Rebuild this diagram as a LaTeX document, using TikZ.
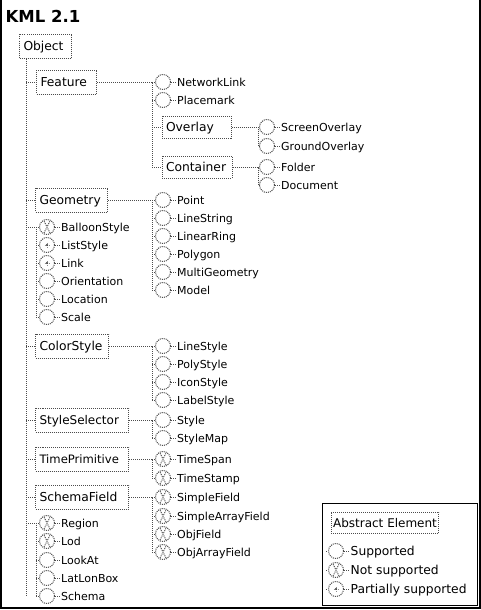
\documentclass[tikz,border=0pt]{standalone}
\usepackage{fontspec}
\setmainfont{DejaVu Sans}
\usetikzlibrary{positioning}
\tikzset{
  conn/.style={draw=black!70, line width=1pt, dash pattern=on 1pt off 1pt},
  elem/.style={draw=black!70, line width=1pt, dash pattern=on 1pt off 1pt, fill=white,
    rectangle, anchor=west, inner xsep=4pt, inner ysep=0pt, minimum height=24pt,
    text height=9pt, text depth=0pt, align=left, font=\fontsize{12.3}{14}\selectfont},
  leaf/.style={circle, draw=black!70, line width=1pt, dash pattern=on 1pt off 1pt,
    fill=white, minimum size=15pt, inner sep=0pt},
  leaftext/.style={inner sep=0.5pt, text height=8pt, text depth=0pt, anchor=west,
    font=\fontsize{11}{13}\selectfont},
  legtext/.style={inner sep=0.5pt, text height=9pt, text depth=0pt, anchor=west,
    font=\fontsize{12.3}{14}\selectfont},
  ok/.style={},
  nok/.style={path picture={
    \draw[black!70, line width=0.9pt]
      ([shift={(-3pt,-6pt)}]path picture bounding box.center) -- ([shift={(3pt,6pt)}]path picture bounding box.center)
      ([shift={(3pt,-6pt)}]path picture bounding box.center) -- ([shift={(-3pt,6pt)}]path picture bounding box.center);}},
  part/.style={path picture={
    \draw[black!45, line width=0.6pt]
      ([xshift=-2.5pt]path picture bounding box.center) -- ([xshift=2.5pt]path picture bounding box.center)
      ([yshift=-2.5pt]path picture bounding box.center) -- ([yshift=2.5pt]path picture bounding box.center);
    \fill[black!80] (path picture bounding box.center) circle (1.2pt);}},
  frame/.style={draw=black, line width=2pt},
  legframe/.style={draw=black, line width=1pt},
}
\newcommand\leafitem[5]{%
  \node[leaf,#5] (#1) at (#2,#3) {};
  \node[leaftext,right=5.5pt of #1] (#1t) {#4};
  \draw[conn] (#1.east) -- (#1t.west);
}
\begin{document}
\begin{tikzpicture}[x=1pt,y=-1pt]
\useasboundingbox (0,0) rectangle (481,610);
% outer frame (open at top)
\draw[frame] (1,0) -- (1,608) -- (479.5,608) -- (479.5,0);
% title
\node[anchor=base west, inner sep=0pt, font=\bfseries\fontsize{16.5}{18}\selectfont] (title) at (5.5,23) {KML 2.1};

% abstract boxes
\node[elem, text width=44pt] (object) at (19,46.5) {Object};
\node[elem, text width=52pt] (feature) at (36,82) {Feature};
\node[elem, text width=61pt, minimum height=22pt] (overlay) at (161.5,127) {Overlay};
\node[elem, text width=62pt, minimum height=22pt] (container) at (161.5,167) {Container};
\node[elem, text width=64pt] (geometry) at (35,200) {Geometry};
\node[elem, text width=65pt] (colorstyle) at (35,346) {ColorStyle};
\node[elem, text width=85pt, font=\fontsize{12}{14}\selectfont] (styleselector) at (35,420) {StyleSelector};
\node[elem, text width=85pt, font=\fontsize{11.6}{14}\selectfont] (timeprimitive) at (35,459) {TimePrimitive};
\node[elem, text width=85pt] (schemafield) at (35,497) {SchemaField};

% leaves
\leafitem{networklink}{163}{82}{NetworkLink}{ok}
\leafitem{placemark}{163}{100}{Placemark}{ok}
\leafitem{screenoverlay}{267}{127}{ScreenOverlay}{ok}
\leafitem{groundoverlay}{267}{146}{GroundOverlay}{ok}
\leafitem{folder}{267}{167}{Folder}{ok}
\leafitem{document}{267}{185}{Document}{ok}
\leafitem{point}{163}{200}{Point}{ok}
\leafitem{linestring}{163}{218}{LineString}{ok}
\leafitem{linearring}{163}{236}{LinearRing}{ok}
\leafitem{polygon}{163}{254}{Polygon}{ok}
\leafitem{multigeometry}{163}{272}{MultiGeometry}{ok}
\leafitem{model}{163}{290}{Model}{ok}
\leafitem{balloonstyle}{47}{227}{BalloonStyle}{nok}
\leafitem{liststyle}{47}{245}{ListStyle}{part}
\leafitem{link}{47}{263}{Link}{part}
\leafitem{orientation}{47}{281}{Orientation}{ok}
\leafitem{location}{47}{299}{Location}{ok}
\leafitem{scale}{47}{317}{Scale}{ok}
\leafitem{linestyle}{163}{346}{LineStyle}{ok}
\leafitem{polystyle}{163}{364}{PolyStyle}{ok}
\leafitem{iconstyle}{163}{382}{IconStyle}{ok}
\leafitem{labelstyle}{163}{400}{LabelStyle}{ok}
\leafitem{style}{163}{420}{Style}{ok}
\leafitem{stylemap}{163}{438}{StyleMap}{ok}
\leafitem{timespan}{163}{459}{TimeSpan}{nok}
\leafitem{timestamp}{163}{478}{TimeStamp}{nok}
\leafitem{simplefield}{163}{497}{SimpleField}{nok}
\leafitem{simplearrayfield}{163}{516}{SimpleArrayField}{nok}
\leafitem{objfield}{163}{534}{ObjField}{nok}
\leafitem{objarrayfield}{163}{552}{ObjArrayField}{nok}
\leafitem{region}{47}{523}{Region}{nok}
\leafitem{lod}{47}{541}{Lod}{nok}
\leafitem{lookat}{47}{560}{LookAt}{ok}
\leafitem{latlonbox}{47}{578}{LatLonBox}{ok}
\leafitem{schema}{47}{596}{Schema}{ok}

% main trunk
\coordinate (trbot) at (26,596);
\draw[conn] ([xshift=7pt]object.south west) -- (trbot);
\foreach \n in {feature,geometry,colorstyle,styleselector,timeprimitive,schemafield,balloonstyle,region}
  \draw[conn] (trbot |- \n.west) -- (\n.west);

% Feature bus
\coordinate (fbus) at (152,82);
\draw[conn] (feature.east) -- (fbus) -- (fbus |- container.west);
\foreach \n in {networklink,placemark,overlay,container}
  \draw[conn] (fbus |- \n.west) -- (\n.west);
% Overlay bus
\coordinate (obus) at (258,127);
\draw[conn] (overlay.east) -- (obus) -- (obus |- groundoverlay.west) -- (groundoverlay.west);
\draw[conn] (obus |- screenoverlay.west) -- (screenoverlay.west);
% Container bus
\coordinate (cbus) at (258,167);
\draw[conn] (container.east) -- (cbus) -- (cbus |- document.west) -- (document.west);
\draw[conn] (cbus |- folder.west) -- (folder.west);
% Geometry bus
\coordinate (gbus) at (152,200);
\draw[conn] (geometry.east) -- (gbus) -- (gbus |- model.west);
\foreach \n in {point,linestring,linearring,polygon,multigeometry,model}
  \draw[conn] (gbus |- \n.west) -- (\n.west);
% Geometry sub-list
\coordinate (gsub) at (36,227);
\draw[conn] (gsub) -- (gsub |- scale.west);
\foreach \n in {liststyle,link,orientation,location,scale}
  \draw[conn] (gsub |- \n.west) -- (\n.west);
% ColorStyle bus
\coordinate (csbus) at (152,346);
\draw[conn] (colorstyle.east) -- (csbus) -- (csbus |- labelstyle.west);
\foreach \n in {linestyle,polystyle,iconstyle,labelstyle}
  \draw[conn] (csbus |- \n.west) -- (\n.west);
% StyleSelector bus
\coordinate (ssbus) at (152,420);
\draw[conn] (styleselector.east) -- (ssbus) -- (ssbus |- stylemap.west);
\foreach \n in {style,stylemap}
  \draw[conn] (ssbus |- \n.west) -- (\n.west);
% TimePrimitive bus
\coordinate (tpbus) at (152,459);
\draw[conn] (timeprimitive.east) -- (tpbus) -- (tpbus |- timestamp.west);
\foreach \n in {timespan,timestamp}
  \draw[conn] (tpbus |- \n.west) -- (\n.west);
% SchemaField bus
\coordinate (sfbus) at (152,497);
\draw[conn] (schemafield.east) -- (sfbus) -- (sfbus |- objarrayfield.west);
\foreach \n in {simplefield,simplearrayfield,objfield,objarrayfield}
  \draw[conn] (sfbus |- \n.west) -- (\n.west);
% SchemaField sub-list
\coordinate (ssub) at (36,523);
\draw[conn] (ssub) -- (ssub |- schema.west);
\foreach \n in {lod,lookat,latlonbox,schema}
  \draw[conn] (ssub |- \n.west) -- (\n.west);

% legend
\draw[legframe] (322,503) rectangle (477,605);
\node[elem, anchor=center, inner xsep=2pt, minimum height=21pt, align=center, font=\fontsize{12}{14}\selectfont] (abstract) at (385,522.5) {Abstract Element};
\node[leaf,ok] (lsup) at (336,551) {};
\node[leaf,nok] (lnsup) at (336,570) {};
\node[leaf,part] (lpsup) at (336,589) {};
\node[legtext, right=6pt of lsup] (lsupt) {Supported};
\node[legtext, right=6pt of lnsup] (lnsupt) {Not supported};
\node[legtext, right=6pt of lpsup] (lpsupt) {Partially supported};
\coordinate (la) at (326,551);
\coordinate (lb) at (326,570);
\coordinate (lc) at (326,589);
\draw[conn] (la) -- (lsup.west);
\draw[conn] (lb) -- (lnsup.west);
\draw[conn] (lc) -- (lpsup.west);
\draw[conn] (lsup.east) -- (lsupt.west);
\draw[conn] (lnsup.east) -- (lnsupt.west);
\draw[conn] (lpsup.east) -- (lpsupt.west);
\end{tikzpicture}
\end{document}
